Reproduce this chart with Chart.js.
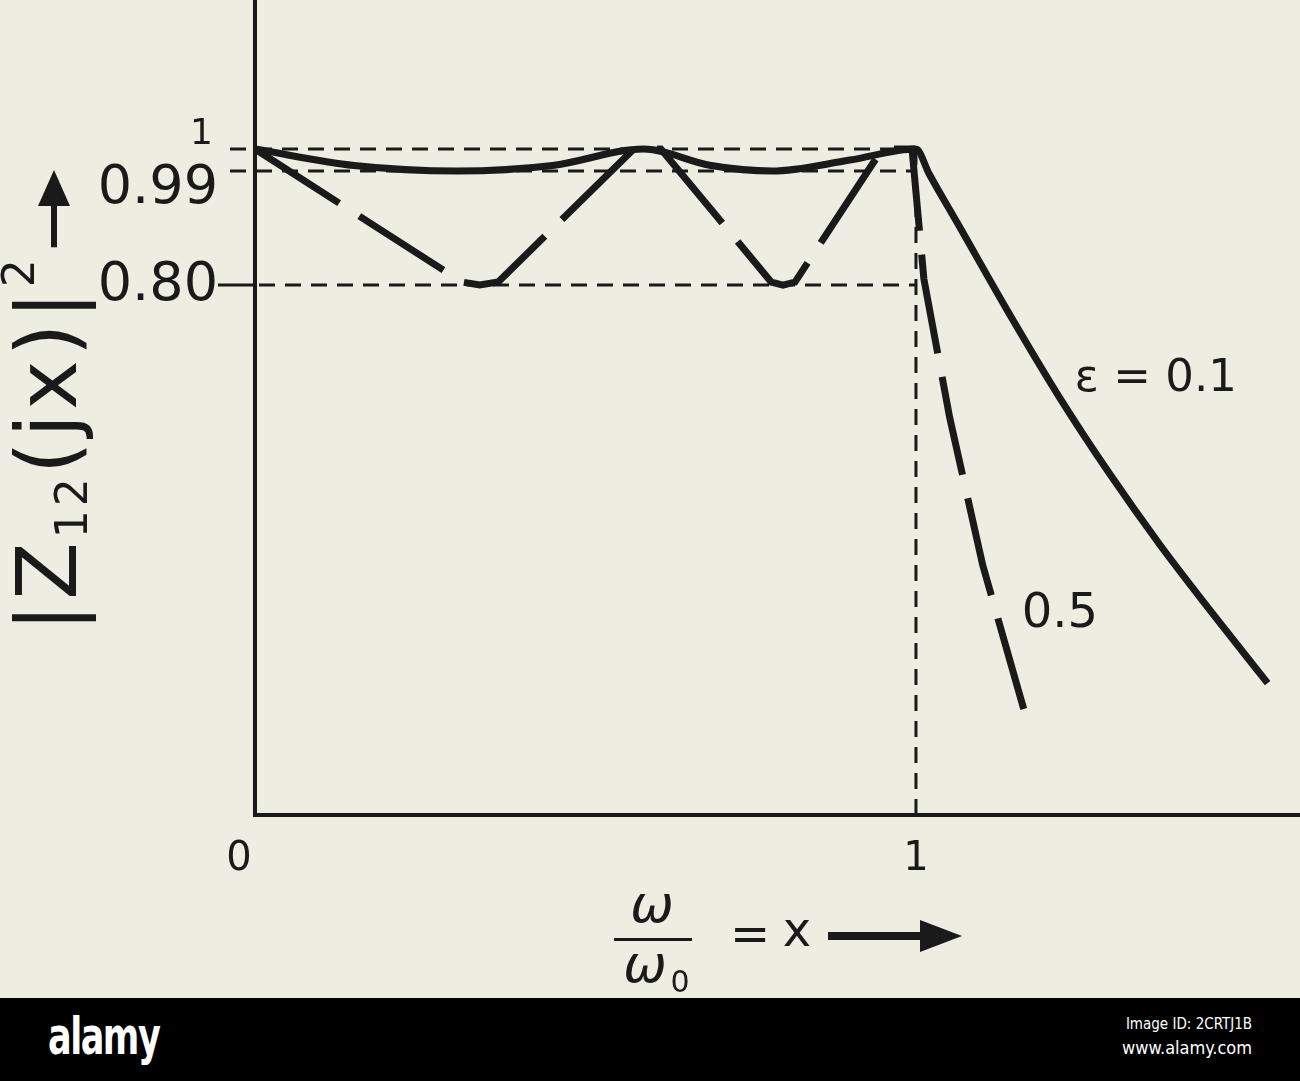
<!DOCTYPE html>
<html>
<head>
<meta charset="utf-8">
<script src="https://cdn.jsdelivr.net/npm/chart.js@4.4.1/dist/chart.umd.min.js"></script>
<style>
  body { margin: 0; background: #000; }
  #wrap { width: 1300px; height: 998px; background: #eeede1; }
  #band { position: relative; width: 1300px; height: 83px; background: #000; color: #fff; font-family: "DejaVu Sans Condensed", "DejaVu Sans", sans-serif; }
  #logo { position: absolute; left: 48px; top: 8px; font-size: 52px; font-weight: bold; letter-spacing: -2px; transform: scaleX(0.75); transform-origin: left; }
  #imgid { position: absolute; right: 48px; top: 17px; font-size: 15px; }
  #site { position: absolute; right: 48px; top: 39px; font-size: 18px; }
</style>
</head>
<body>
<div id="wrap"><canvas id="chart" width="1300" height="998"></canvas></div>
<div id="band">
  <div id="logo">alamy</div>
  <div id="imgid">Image ID: 2CRTJ1B</div>
  <div id="site">www.alamy.com</div>
</div>
<script>
// Datos (x = w/w0, y = |Z12(jx)|^2)
const eps05X = [0, 0.313, 0.340, 0.368, 0.573, 0.593, 0.614, 0.781, 0.799, 0.817, 0.949, 0.994, 1.012, 1.051, 1.101, 1.163];
const eps05Y = [1.0, 0.805, 0.80, 0.805, 1.0, 1.0, 1.0, 0.805, 0.80, 0.805, 1.0, 1.0, 0.81, 0.60, 0.377, 0.16];
const eps01X = [0, 0.15, 0.307, 0.45, 0.588, 0.69, 0.782, 0.90, 1.0, 1.02, 1.067, 1.138, 1.218, 1.293, 1.369, 1.445, 1.532];
const eps01Y = [1.0, 0.9925, 0.99, 0.9925, 1.0, 0.9925, 0.99, 0.995, 1.0, 0.985, 0.895, 0.762, 0.629, 0.515, 0.408, 0.309, 0.199];
const yTicks = [0.80, 0.99, 1];
const yTickLabels = ['0.80', '0.99', '1'];
const xTicks = [0, 1];
const xTickLabels = ['0', '1'];
const curveLabels = ['\u03B5 = 0.1', '0.5'];
const curveLabelPos = [[1.24, 0.657], [1.16, 0.302]];

const INK = '#1a1a1a';
const FONT = '"DejaVu Sans", sans-serif';

// escala con la zona 0.99..1 ampliada, como en el dibujo original
const wv = [0, 0.8, 0.99, 1];
const wd = [0, 0.8, 0.9721, 1.0053];
function warp(v) {
  if (v >= 1) return wd[3] + (v - 1);
  for (let i = 1; i < wv.length; i++) {
    if (v <= wv[i]) return wd[i-1] + (v - wv[i-1]) * (wd[i] - wd[i-1]) / (wv[i] - wv[i-1]);
  }
}
function unwarp(d) {
  if (d >= wd[3]) return 1 + (d - wd[3]);
  for (let i = 1; i < wd.length; i++) {
    if (d <= wd[i]) return wv[i-1] + (d - wd[i-1]) * (wv[i] - wv[i-1]) / (wd[i] - wd[i-1]);
  }
}
class WarpScale extends Chart.LinearScale {
  getPixelForValue(v) { return super.getPixelForValue(warp(v)); }
  getValueForPixel(p) { return unwarp(super.getValueForPixel(p)); }
}
WarpScale.id = 'warp';
WarpScale.defaults = Chart.LinearScale.defaults;
Chart.register(WarpScale);

function pts(xs, ys) { return xs.map((x, i) => ({x: x, y: ys[i]})); }

function dashLine(ctx, x1, y1, x2, y2, dash, w) {
  ctx.save();
  ctx.strokeStyle = INK; ctx.lineWidth = w; ctx.setLineDash(dash);
  ctx.beginPath(); ctx.moveTo(x1, y1); ctx.lineTo(x2, y2); ctx.stroke();
  ctx.restore();
}

const decor = {
  id: 'decor',
  beforeDatasetsDraw(chart) {
    const ctx = chart.ctx, xs = chart.scales.x, ys = chart.scales.y, a = chart.chartArea;
    const x1 = xs.getPixelForValue(1);
    // lineas de referencia
    yTicks.forEach(v => {
      const py = ys.getPixelForValue(v);
      if (v === 0.80) {
        dashLine(ctx, a.left - 37, py, a.left, py, [], 3);
        dashLine(ctx, a.left + 4, py, x1, py, [16, 10], 3);
      } else {
        dashLine(ctx, a.left - 25, py, x1, py, [16, 10], 3);
      }
    });
    dashLine(ctx, x1, ys.getPixelForValue(1), x1, a.bottom, [16, 10], 3);
    // ejes
    ctx.save();
    ctx.strokeStyle = INK; ctx.lineWidth = 4;
    ctx.beginPath(); ctx.moveTo(a.left, 0); ctx.lineTo(a.left, a.bottom); ctx.lineTo(a.right, a.bottom); ctx.stroke();
    ctx.restore();
  },
  afterDraw(chart) {
    const ctx = chart.ctx, xs = chart.scales.x, ys = chart.scales.y, a = chart.chartArea;
    ctx.save();
    ctx.fillStyle = INK;
    ctx.textBaseline = 'middle';
    // etiquetas del eje y
    ctx.textAlign = 'right';
    yTicks.forEach((v, i) => {
      const py = ys.getPixelForValue(v);
      if (v === 1) {
        ctx.font = '36px ' + FONT;
        ctx.fillText(yTickLabels[i], a.left - 42, py - 14);
      } else if (v === 0.99) {
        ctx.font = '54px ' + FONT;
        ctx.fillText(yTickLabels[i], a.left - 37, py + 18);
      } else {
        ctx.font = '54px ' + FONT;
        ctx.fillText(yTickLabels[i], a.left - 37, py + 1);
      }
    });
    // etiquetas del eje x
    ctx.textAlign = 'center';
    ctx.font = '40px ' + FONT;
    xTicks.forEach((v, i) => {
      const px = xs.getPixelForValue(v) - (v === 0 ? 16 : 0);
      ctx.fillText(xTickLabels[i], px, a.bottom + 45);
    });
    // etiquetas de curvas
    ctx.textAlign = 'left';
    ctx.font = '45px ' + FONT;
    ctx.fillText(curveLabels[0], xs.getPixelForValue(curveLabelPos[0][0]), ys.getPixelForValue(curveLabelPos[0][1]));
    ctx.font = '48px ' + FONT;
    ctx.fillText(curveLabels[1], xs.getPixelForValue(curveLabelPos[1][0]), ys.getPixelForValue(curveLabelPos[1][1]));
    // titulo eje x: w/w0 = x ->
    ctx.textAlign = 'center';
    ctx.font = 'italic 52px ' + FONT;
    ctx.fillText('\u03C9', 652, 908);
    ctx.fillRect(614, 938, 78, 3);
    ctx.fillText('\u03C9', 645, 968);
    ctx.font = '30px ' + FONT;
    ctx.fillText('0', 680, 984);
    ctx.font = '48px ' + FONT;
    ctx.fillText('=', 750, 938);
    ctx.fillText('x', 797, 934);
    ctx.fillRect(828, 932, 100, 8);
    ctx.beginPath(); ctx.moveTo(920, 920); ctx.lineTo(962, 936); ctx.lineTo(920, 952); ctx.closePath(); ctx.fill();
    // titulo eje y: |Z12(jx)|^2 ->
    ctx.translate(54, 632);
    ctx.rotate(-Math.PI / 2);
    ctx.textAlign = 'left';
    ctx.letterSpacing = '4px';
    let x = 0;
    const piece = (t, f, dy) => { ctx.font = f; ctx.fillText(t, x, dy); x += ctx.measureText(t).width; };
    piece('|Z', '84px ' + FONT, 0);
    piece('12', '44px ' + FONT, 22);
    piece('(jx)|', '84px ' + FONT, 0);
    piece('2', '44px ' + FONT, -31);
    x += 8;
    const tip = 462;
    ctx.fillRect(x, -3, tip - x - 28, 6);
    ctx.beginPath(); ctx.moveTo(tip - 36, -16); ctx.lineTo(tip, 0); ctx.lineTo(tip - 36, 16); ctx.closePath(); ctx.fill();
    ctx.restore();
  }
};

new Chart(document.getElementById('chart'), {
  type: 'line',
  data: {
    datasets: [
      { label: curveLabels[0], data: pts(eps01X, eps01Y), borderColor: INK, borderWidth: 7,
        pointRadius: 0, fill: false, cubicInterpolationMode: 'monotone' },
      { label: curveLabels[1], data: pts(eps05X, eps05Y), borderColor: INK, borderWidth: 7,
        pointRadius: 0, fill: false, tension: 0, borderDash: [100, 24] }
    ]
  },
  options: {
    responsive: false,
    animation: false,
    devicePixelRatio: 1,
    layout: { padding: { left: 255, top: 0, right: 0, bottom: 183 } },
    plugins: { legend: { display: false }, tooltip: { enabled: false } },
    scales: {
      x: { type: 'linear', display: false, min: 0, max: 1.581 },
      y: { type: 'warp', display: false, min: 0, max: warp(1.225) }
    }
  },
  plugins: [decor]
});
</script>
</body>
</html>
